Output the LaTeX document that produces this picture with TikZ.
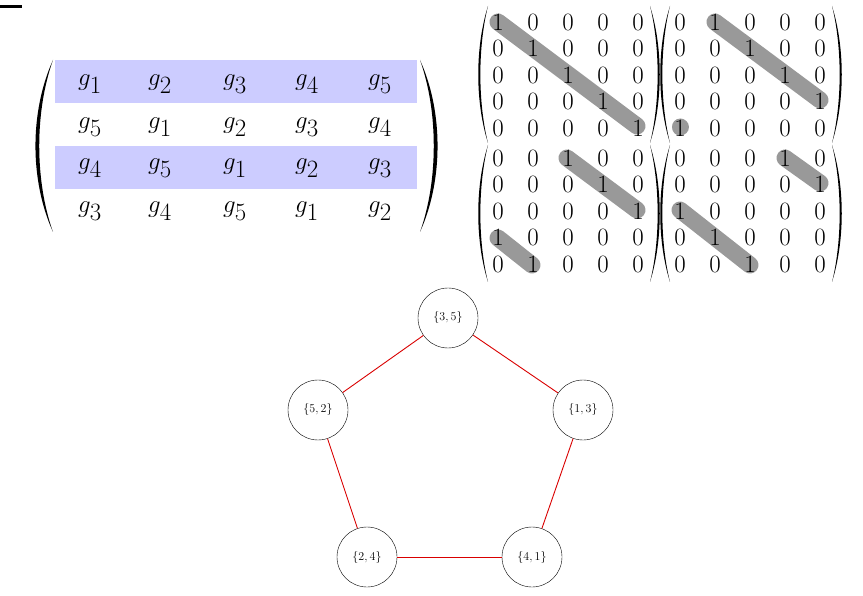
\documentclass[tikz,border=0pt]{standalone}
\begin{document}
\begin{tikzpicture}[x=1pt,y=-1pt,
  big/.style={font=\fontsize{33}{38}\selectfont},
  small/.style={font=\fontsize{23}{26}\selectfont},
  hl/.style={line width=17pt,line cap=round,draw=gray!80},
  vtx/.style={circle,draw,minimum size=60pt,inner sep=0pt,font=\fontsize{13}{15}\selectfont},
  edge/.style={draw=red!85!black,line width=0.9pt}]
\useasboundingbox (0,0) rectangle (863,596);
\newcommand\LP[4]{% x, ytop, ybot, width
  \fill (#1+#4,#2) .. controls (#1-0.3*#4,#2+0.3*#3-0.3*#2) and (#1-0.3*#4,#3-0.3*#3+0.3*#2) .. (#1+#4,#3)
    .. controls (#1-0.02*#4,#3-0.3*#3+0.3*#2) and (#1-0.02*#4,#2+0.3*#3-0.3*#2) .. cycle;}
\newcommand\RP[4]{%
  \fill (#1-#4,#2) .. controls (#1+0.3*#4,#2+0.3*#3-0.3*#2) and (#1+0.3*#4,#3-0.3*#3+0.3*#2) .. (#1-#4,#3)
    .. controls (#1+0.02*#4,#3-0.3*#3+0.3*#2) and (#1+0.02*#4,#2+0.3*#3-0.3*#2) .. cycle;}
% dash
\fill (0,5) rectangle (22,8);
% left matrix
\fill[blue!20] (55,60) rectangle (417,103);
\fill[blue!20] (55,146) rectangle (417,189);
\LP{35}{60}{232}{18}
\RP{438}{60}{232}{18}
\def\cx{{90,160,235,307,380}}
\def\ry{{84,127,168,211}}
\foreach \r/\row in {0/{1,2,3,4,5},1/{5,1,2,3,4},2/{4,5,1,2,3},3/{3,4,5,1,2}}{
  \foreach \v [count=\c from 0] in \row {
    \node[big] at ({\cx[\c]},{\ry[\r]}) {$g_{\v}$};
  }
}
% small matrices highlights
\draw[hl] (498,22) -- (637,126);
\draw[hl] (715,22) -- (820,100);
\draw[hl] (680,127) -- (680,127.1);
\draw[hl] (567,158) -- (637,210);
\draw[hl] (498,238) -- (532,265);
\draw[hl] (785,158) -- (820,183);
\draw[hl] (680,210) -- (750,265);
% small matrices entries
\foreach \mx/\my/\sh in {498/22/0,680/22/1,498/158/2,680/158/3}{
  \foreach \r in {0,...,4}{
    \foreach \c in {0,...,4}{
      \pgfmathtruncatemacro\one{mod(\c-\r-\sh+10,5)==0 ? 1 : 0}
      \node[small] at (\mx+35*\c,\my+26.5*\r) {$\one$};
    }
  }
}
\LP{478}{6}{143}{10}\RP{660}{6}{143}{10}
\LP{660}{6}{143}{10}\RP{842}{6}{143}{10}
\LP{478}{145}{282}{10}\RP{660}{145}{282}{10}
\LP{660}{145}{282}{10}\RP{842}{145}{282}{10}
% graph
\node[vtx] (a) at (448,318) {$\{3,5\}$};
\node[vtx] (b) at (318,410) {$\{5,2\}$};
\node[vtx] (c) at (583,410) {$\{1,3\}$};
\node[vtx] (d) at (367,557) {$\{2,4\}$};
\node[vtx] (e) at (532,557) {$\{4,1\}$};
\draw[edge] (a) -- (b);
\draw[edge] (a) -- (c);
\draw[edge] (b) -- (d);
\draw[edge] (c) -- (e);
\draw[edge] (d) -- (e);
\end{tikzpicture}
\end{document}
